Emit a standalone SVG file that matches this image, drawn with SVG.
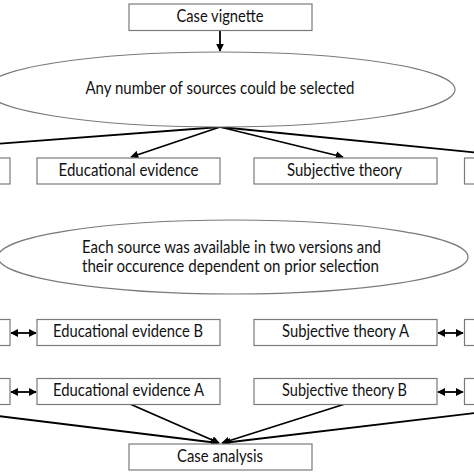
<svg xmlns="http://www.w3.org/2000/svg" width="474" height="474" viewBox="0 0 474 474">
<defs>
<style>
.box{fill:#fff;stroke:#7a7a7a;stroke-width:1.2}
.ell{fill:#fff;stroke:#7a7a7a;stroke-width:1.2}
.t{font-family:Lato,"Open Sans",sans-serif;font-size:16.5px;fill:#111;text-anchor:middle}
.c{stroke:#000;stroke-width:1.8;fill:none}
</style>
<marker id="ah" viewBox="0 0 10 10" refX="9" refY="5" markerWidth="4.5" markerHeight="4.5" orient="auto-start-reverse" markerUnits="strokeWidth">
<path d="M0,0 L10,5 L0,10 z" fill="#000"/>
</marker>
</defs>
<rect width="474" height="474" fill="#fff"/>
<g id="connectors">
<line class="c" x1="220" y1="31" x2="220" y2="51" marker-end="url(#ah)"/>
<line class="c" x1="220" y1="127" x2="-190" y2="158"/>
<line class="c" x1="220" y1="127" x2="131" y2="157" marker-end="url(#ah)"/>
<line class="c" x1="220" y1="127" x2="343" y2="157" marker-end="url(#ah)"/>
<line class="c" x1="220" y1="127" x2="530" y2="158"/>
<line class="c" x1="11" y1="333" x2="36" y2="333" marker-start="url(#ah)" marker-end="url(#ah)"/>
<line class="c" x1="438" y1="333" x2="463" y2="333" marker-start="url(#ah)" marker-end="url(#ah)"/>
<line class="c" x1="11" y1="392" x2="36" y2="392" marker-start="url(#ah)" marker-end="url(#ah)"/>
<line class="c" x1="438" y1="392" x2="463" y2="392" marker-start="url(#ah)" marker-end="url(#ah)"/>
<line class="c" x1="-10" y1="415" x2="218" y2="443" marker-end="url(#ah)"/>
<line class="c" x1="130" y1="404" x2="219" y2="443" marker-end="url(#ah)"/>
<line class="c" x1="345" y1="404" x2="222" y2="443" marker-end="url(#ah)"/>
<line class="c" x1="484" y1="412" x2="223" y2="443" marker-end="url(#ah)"/>
</g>
<g id="case-vignette">
<rect class="box" x="129" y="4" width="183" height="26.5"/>
<text class="t" x="220" y="22" textLength="87" lengthAdjust="spacingAndGlyphs">Case vignette</text>
</g>
<g id="ellipse-any">
<ellipse class="ell" cx="220" cy="89.5" rx="235" ry="37.5"/>
<text class="t" x="220" y="94" textLength="269" lengthAdjust="spacingAndGlyphs">Any number of sources could be selected</text>
</g>
<g id="left-source-1"><rect class="box" x="-60" y="158" width="70" height="26"/></g>
<g id="educational-evidence">
<rect class="box" x="37" y="158" width="183" height="26"/>
<text class="t" x="128.5" y="176" textLength="140" lengthAdjust="spacingAndGlyphs">Educational evidence</text>
</g>
<g id="subjective-theory">
<rect class="box" x="254" y="158" width="183" height="26"/>
<text class="t" x="344.5" y="176" textLength="115" lengthAdjust="spacingAndGlyphs">Subjective theory</text>
</g>
<g id="right-source-1"><rect class="box" x="464.5" y="158" width="70" height="26"/></g>
<g id="ellipse-each">
<ellipse class="ell" cx="233" cy="257" rx="235" ry="37"/>
<text class="t" x="231.5" y="253" textLength="299" lengthAdjust="spacingAndGlyphs">Each source was available in two versions and</text>
<text class="t" x="230.5" y="272" textLength="297" lengthAdjust="spacingAndGlyphs">their occurence dependent on prior selection</text>
</g>
<g id="left-source-2"><rect class="box" x="-60" y="319.5" width="70" height="26"/></g>
<g id="educational-evidence-b">
<rect class="box" x="37" y="319.5" width="183" height="26"/>
<text class="t" x="128" y="337" textLength="150" lengthAdjust="spacingAndGlyphs">Educational evidence B</text>
</g>
<g id="subjective-theory-a">
<rect class="box" x="254" y="319.5" width="183" height="26"/>
<text class="t" x="345.5" y="337" textLength="127" lengthAdjust="spacingAndGlyphs">Subjective theory A</text>
</g>
<g id="right-source-2"><rect class="box" x="464.5" y="319.5" width="70" height="26"/></g>
<g id="left-source-3"><rect class="box" x="-60" y="378.5" width="70" height="26"/></g>
<g id="educational-evidence-a">
<rect class="box" x="37" y="378.5" width="183" height="26"/>
<text class="t" x="128.5" y="396" textLength="151" lengthAdjust="spacingAndGlyphs">Educational evidence A</text>
</g>
<g id="subjective-theory-b">
<rect class="box" x="254" y="378.5" width="183" height="26"/>
<text class="t" x="344.5" y="396" textLength="125" lengthAdjust="spacingAndGlyphs">Subjective theory B</text>
</g>
<g id="right-source-3"><rect class="box" x="464.5" y="378.5" width="70" height="26"/></g>
<g id="case-analysis">
<rect class="box" x="129" y="444" width="183" height="26"/>
<text class="t" x="220" y="462" textLength="86" lengthAdjust="spacingAndGlyphs">Case analysis</text>
</g>
</svg>
